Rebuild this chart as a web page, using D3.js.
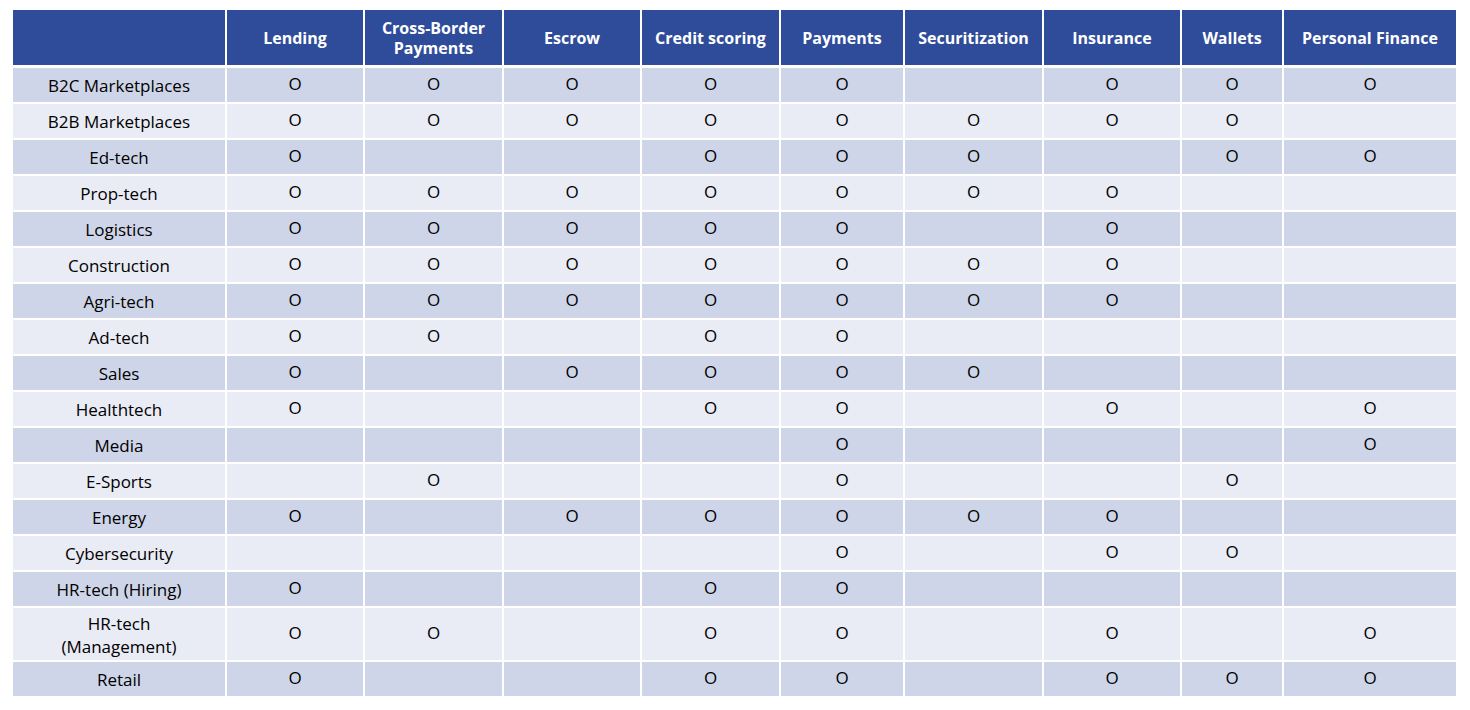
<!DOCTYPE html>
<html lang="en">
  <head>
    <meta charset="utf-8">
    <title>fintech matrix</title>
    <style>body{margin:0;background:#fff;}</style>
  </head>
  <body>
    <svg id="canvas"></svg>
    <script src="https://cdn.jsdelivr.net/npm/d3@7"></script>
    <script>

      const columns = ["Lending", "Cross-Border\nPayments", "Escrow", "Credit scoring", "Payments",
        "Securitization", "Insurance", "Wallets", "Personal Finance"];

      const rows = ["B2C Marketplaces", "B2B Marketplaces", "Ed-tech", "Prop-tech", "Logistics",
        "Construction", "Agri-tech", "Ad-tech", "Sales", "Healthtech", "Media", "E-Sports",
        "Energy", "Cybersecurity", "HR-tech (Hiring)", "HR-tech\n(Management)", "Retail"];

      // 1 = "O" in the cell
      const marks = [
        [1,1,1,1,1,0,1,1,1],
        [1,1,1,1,1,1,1,1,0],
        [1,0,0,1,1,1,0,1,1],
        [1,1,1,1,1,1,1,0,0],
        [1,1,1,1,1,0,1,0,0],
        [1,1,1,1,1,1,1,0,0],
        [1,1,1,1,1,1,1,0,0],
        [1,1,0,1,1,0,0,0,0],
        [1,0,1,1,1,1,0,0,0],
        [1,0,0,1,1,0,1,0,1],
        [0,0,0,0,1,0,0,0,1],
        [0,1,0,0,1,0,0,1,0],
        [1,0,1,1,1,1,1,0,0],
        [0,0,0,0,1,0,1,1,0],
        [1,0,0,1,1,0,0,0,0],
        [1,1,0,1,1,0,1,0,1],
        [1,0,0,1,1,0,1,1,1]
      ];

      const width = 1470, height = 710;
      const svg = d3.select("#canvas").attr("width", width).attr("height", height)
        .style("font-family", "'Open Sans', sans-serif");

      // layout: column edges and row heights
      const colW = [214, 138, 139, 138, 139, 124, 139, 138, 102, 174];
      const colX = [12];
      colW.forEach(w => colX.push(colX[colX.length - 1] + w));
      const headerTop = 10, headerH = 57;
      const rowH = rows.map(r => r.includes("\n") ? 54 : 36);
      const rowY = [headerTop + headerH];
      rowH.forEach(h => rowY.push(rowY[rowY.length - 1] + h));

      const gap = 2;

      // header
      colW.forEach((w, i) => {
        svg.append("rect").attr("x", colX[i] + gap/2).attr("y", headerTop)
          .attr("width", w - gap).attr("height", headerH - gap).attr("fill", "#2F4C9B");
      });
      columns.forEach((c, j) => {
        const lines = c.split("\n");
        const cx = colX[j + 1] + colW[j + 1] / 2;
        const t = svg.append("text").attr("text-anchor", "middle").attr("fill", "#fff")
          .attr("font-weight", "bold").attr("font-size", 16);
        lines.forEach((l, k) => {
          t.append("tspan").attr("x", cx)
            .attr("y", headerTop + headerH/2 - 1 + (k - (lines.length - 1) / 2) * 20 + 6)
            .text(l);
        });
      });

      // body
      rows.forEach((r, i) => {
        const fill = i % 2 === 0 ? "#CFD5E8" : "#E9EBF5";
        colW.forEach((w, j) => {
          svg.append("rect").attr("x", colX[j] + gap/2).attr("y", rowY[i] + gap/2)
            .attr("width", w - gap).attr("height", rowH[i] - gap).attr("fill", fill);
        });
        const cy = rowY[i] + rowH[i] / 2;
        const lines = r.split("\n");
        const t = svg.append("text").attr("text-anchor", "middle").attr("fill", "#000")
          .attr("font-size", 17);
        lines.forEach((l, k) => {
          t.append("tspan").attr("x", colX[0] + colW[0] / 2)
            .attr("y", cy + (k - (lines.length - 1) / 2) * 23 + 7).text(l);
        });
        marks[i].forEach((m, j) => {
          if (!m) return;
          svg.append("text").attr("x", colX[j + 1] + colW[j + 1] / 2).attr("y", cy + 5)
            .attr("text-anchor", "middle").attr("font-size", 17).text("O");
        });
      });
    </script>
  </body>
</html>
